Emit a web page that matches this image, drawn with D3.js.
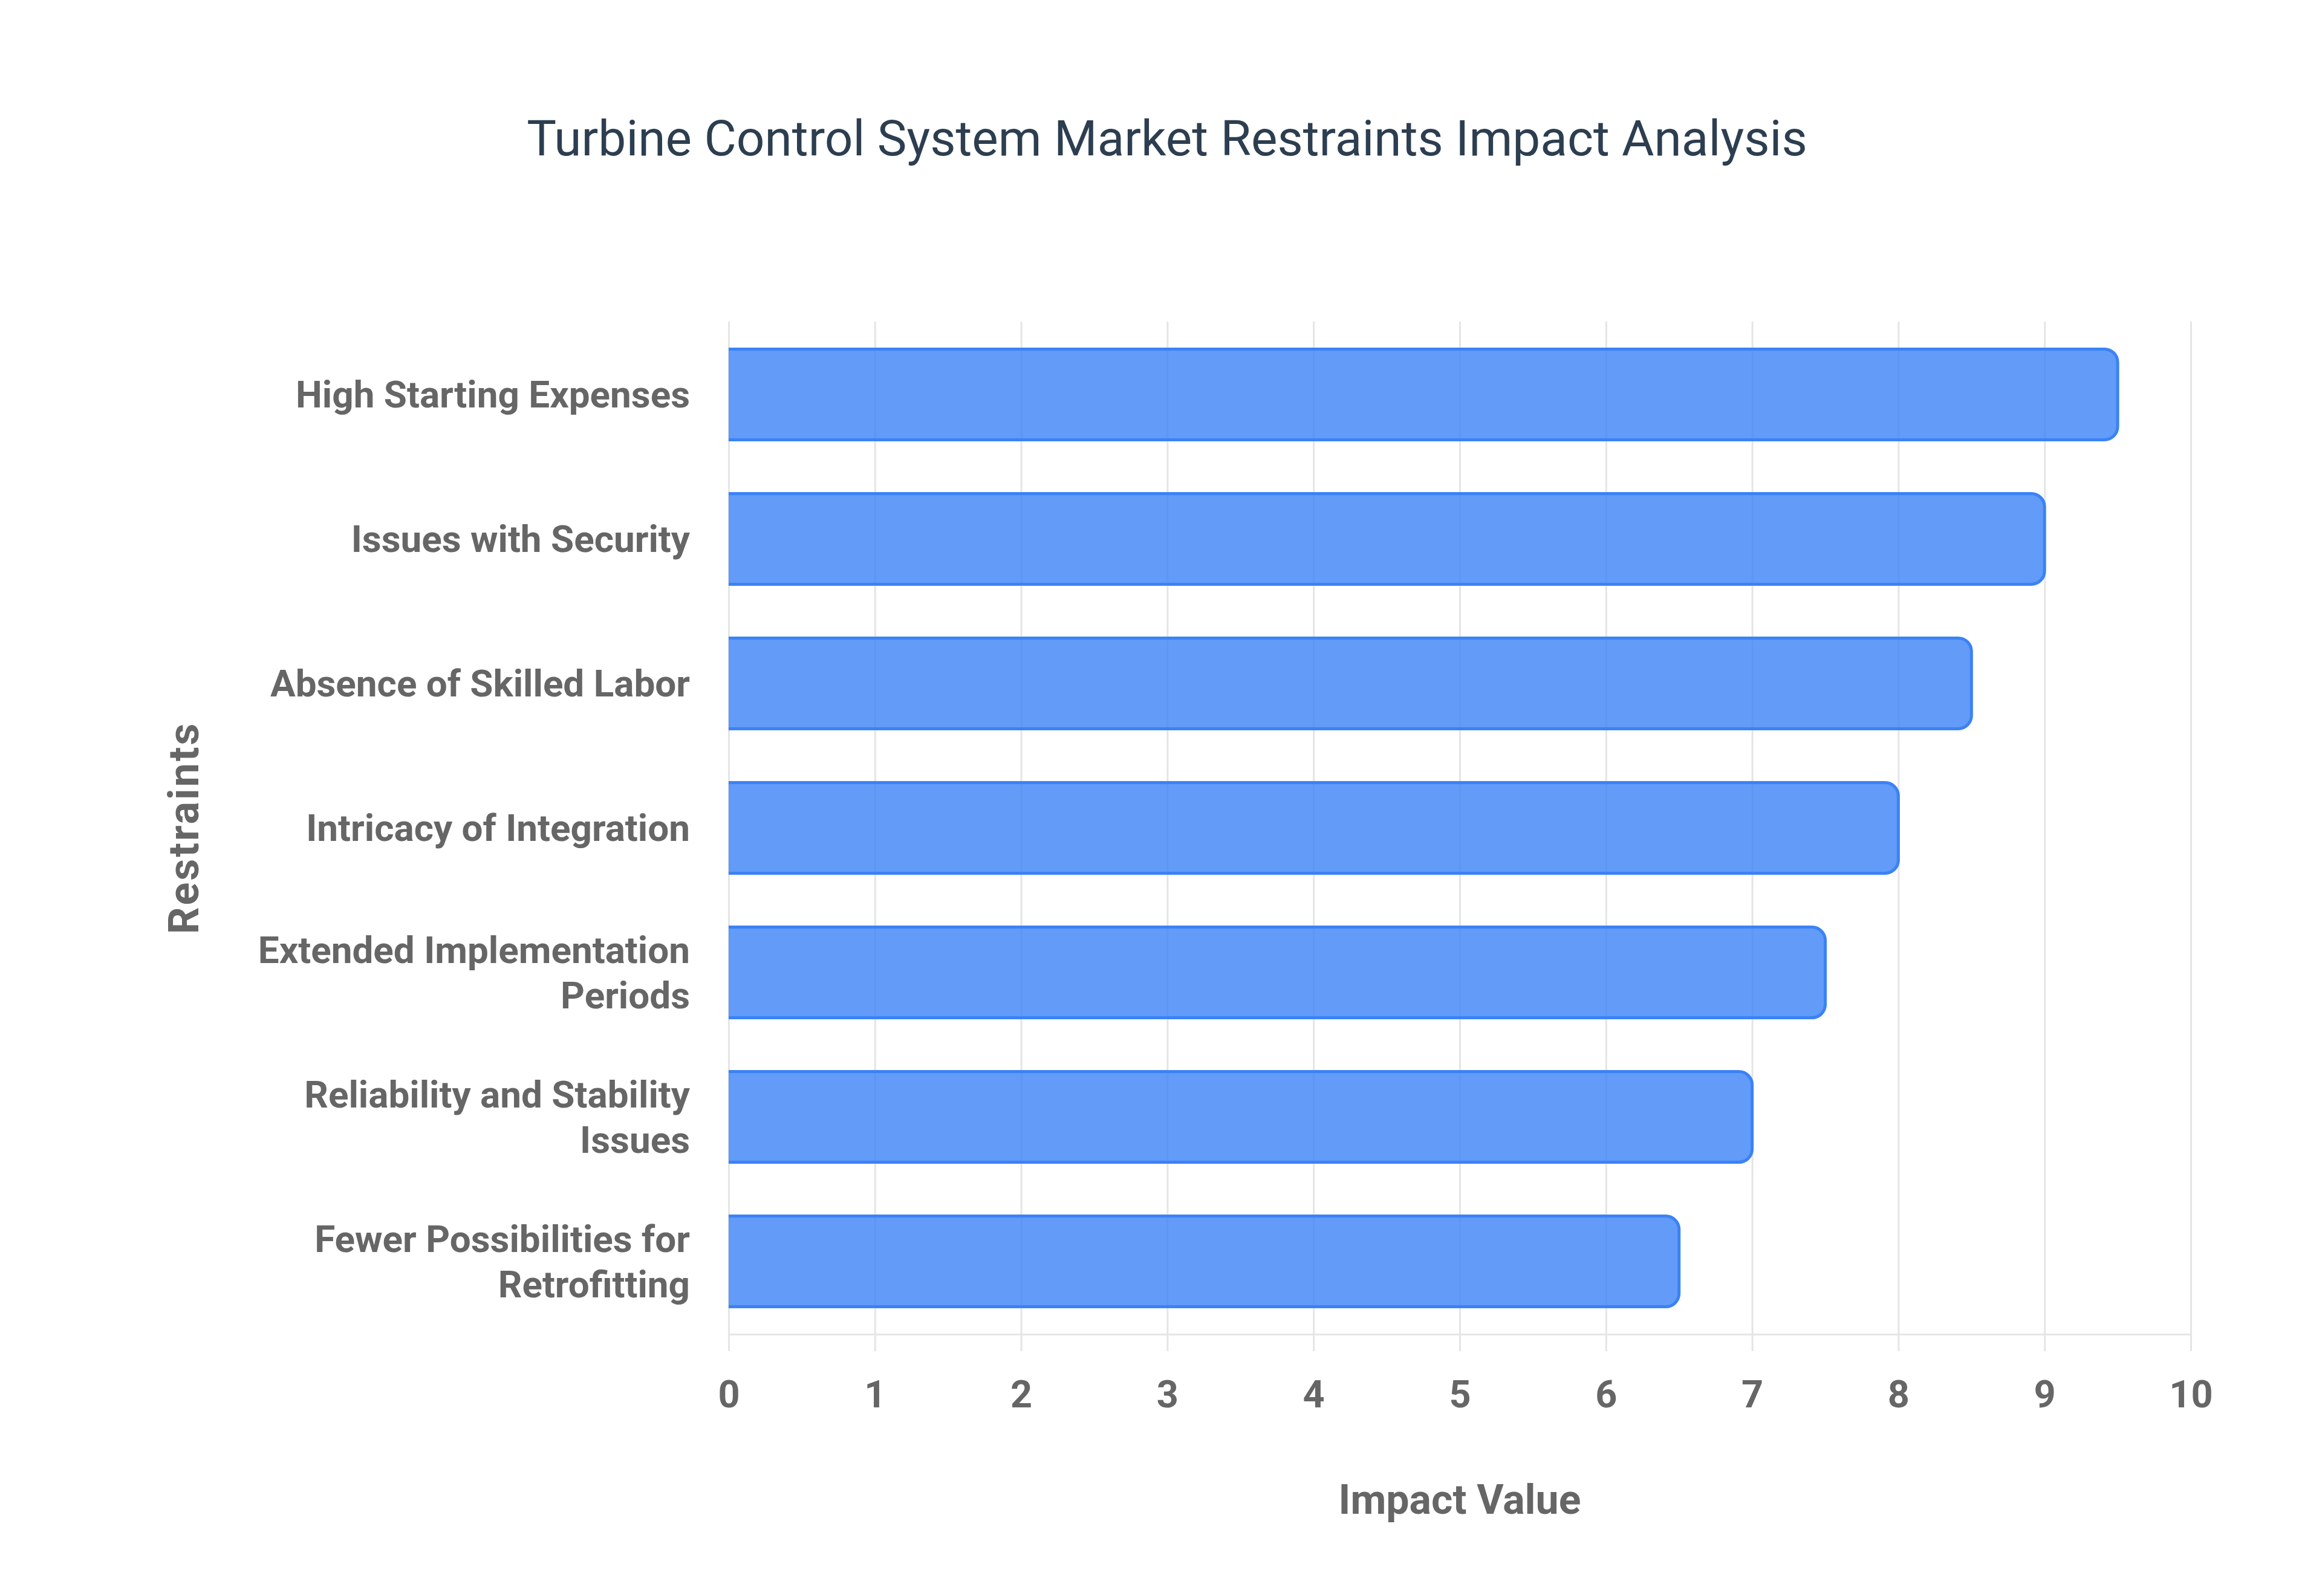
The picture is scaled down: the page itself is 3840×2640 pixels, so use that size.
<!DOCTYPE html>
<html>
<head>
<meta charset="utf-8">
<script src="https://cdn.jsdelivr.net/npm/d3@7"></script>
<style>
  body { margin: 0; background: #fff; }
</style>
</head>
<body>
<div id="chart"></div>
<script>
// data
const categories = [
    "High Starting Expenses",
    "Issues with Security",
    "Absence of Skilled Labor",
    "Intricacy of Integration",
    "Extended Implementation Periods",
    "Reliability and Stability Issues",
    "Fewer Possibilities for Retrofitting"
];
const values = [9.5, 9, 8.5, 8, 7.5, 7, 6.5];
const xTicks = [0, 1, 2, 3, 4, 5, 6, 7, 8, 9, 10];

const chartTitle = "Turbine Control System Market Restraints Impact Analysis";
const xTitle = "Impact Value";
const yTitle = "Restraints";

// set the dimensions and margins of the graph
var W = 3840, H = 2640;
var margin = {top: 532, right: 217, bottom: 433, left: 1205},
    width = W - margin.left - margin.right,
    height = H - margin.top - margin.bottom;

var svg = d3.select("#chart")
    .append("svg")
    .attr("width", W)
    .attr("height", H);

var g = svg.append("g")
    .attr("transform", "translate(" + margin.left + "," + margin.top + ")");

var x = d3.scaleLinear().domain([0, 10]).range([0, width]);
var y = d3.scaleBand()
    .domain(categories)
    .range([0, height])
    .paddingInner(0.372)
    .paddingOuter(0.19);

var labelFont = "Roboto, 'Liberation Sans', Arial, sans-serif";
var grey = "#666666";
var gridColor = "#e5e5e5";

// vertical grid lines (and bottom axis line)
var grid = g.append("g")
    .attr("transform", "translate(0," + height + ")")
    .call(d3.axisBottom(x).tickValues(xTicks).tickSize(-height).tickFormat(""));
grid.selectAll("line").attr("stroke", gridColor).attr("stroke-width", 3);
grid.select(".domain").attr("stroke", gridColor).attr("stroke-width", 3);

// x axis ticks + labels
var xAxis = g.append("g")
    .attr("transform", "translate(0," + height + ")")
    .call(d3.axisBottom(x).tickValues(xTicks).tickSize(28).tickPadding(48));
xAxis.select(".domain").remove();
xAxis.selectAll("line").attr("stroke", gridColor).attr("stroke-width", 3);
xAxis.selectAll("text")
    .attr("fill", grey)
    .style("font-family", labelFont)
    .style("font-weight", "bold")
    .style("font-size", "63px");

// bars, rounded on the value end
function barPath(d, i) {
    var x0 = x(0), x1 = x(values[i]), y0 = y(d), h = y.bandwidth(), r = 22;
    return "M" + x0 + "," + y0 +
        "H" + (x1 - r) +
        "A" + r + "," + r + " 0 0 1 " + x1 + "," + (y0 + r) +
        "V" + (y0 + h - r) +
        "A" + r + "," + r + " 0 0 1 " + (x1 - r) + "," + (y0 + h) +
        "H" + x0;
}

g.selectAll(".bar")
    .data(categories)
    .enter().append("path")
    .attr("class", "bar")
    .attr("d", barPath)
    .attr("fill", "rgba(59,130,246,0.8)")
    .attr("stroke", "#3b82f6")
    .attr("stroke-width", 5);

// y axis labels, wrapped
var yAxis = g.append("g")
    .call(d3.axisLeft(y).tickSize(0).tickPadding(64));
yAxis.select(".domain").remove();
yAxis.selectAll("text")
    .attr("fill", grey)
    .style("font-family", labelFont)
    .style("font-weight", "bold")
    .style("font-size", "62px")
    .call(wrap, 730, 75);

function wrap(text, maxW, lineH) {
    text.each(function () {
        var t = d3.select(this);
        var words = t.text().split(" ");
        var xx = t.attr("x");
        t.text(null).attr("dy", null);
        var lines = [], line = [];
        var probe = t.append("tspan");
        words.forEach(function (w) {
            line.push(w);
            probe.text(line.join(" "));
            if (probe.node().getComputedTextLength() > maxW && line.length > 1) {
                line.pop();
                lines.push(line.join(" "));
                line = [w];
            }
        });
        lines.push(line.join(" "));
        probe.remove();
        lines.forEach(function (l, i) {
            t.append("tspan")
                .attr("x", xx)
                .attr("y", (i - (lines.length - 1) / 2) * lineH)
                .attr("dy", "0.35em")
                .text(l);
        });
    });
}

// titles
svg.append("text")
    .attr("x", 1930)
    .attr("y", 257)
    .attr("text-anchor", "middle")
    .attr("fill", "#2c3e50")
    .style("font-family", labelFont)
    .style("font-size", "82px")
    .text(chartTitle);

svg.append("text")
    .attr("x", margin.left + width / 2)
    .attr("y", 2504)
    .attr("text-anchor", "middle")
    .attr("fill", grey)
    .style("font-family", labelFont)
    .style("font-weight", "bold")
    .style("font-size", "68px")
    .text(xTitle);

svg.append("text")
    .attr("transform", "translate(328," + (margin.top + height / 2) + ") rotate(-90)")
    .attr("text-anchor", "middle")
    .attr("fill", grey)
    .style("font-family", labelFont)
    .style("font-weight", "bold")
    .style("font-size", "70px")
    .style("letter-spacing", "3px")
    .text(yTitle);
</script>
</body>
</html>
